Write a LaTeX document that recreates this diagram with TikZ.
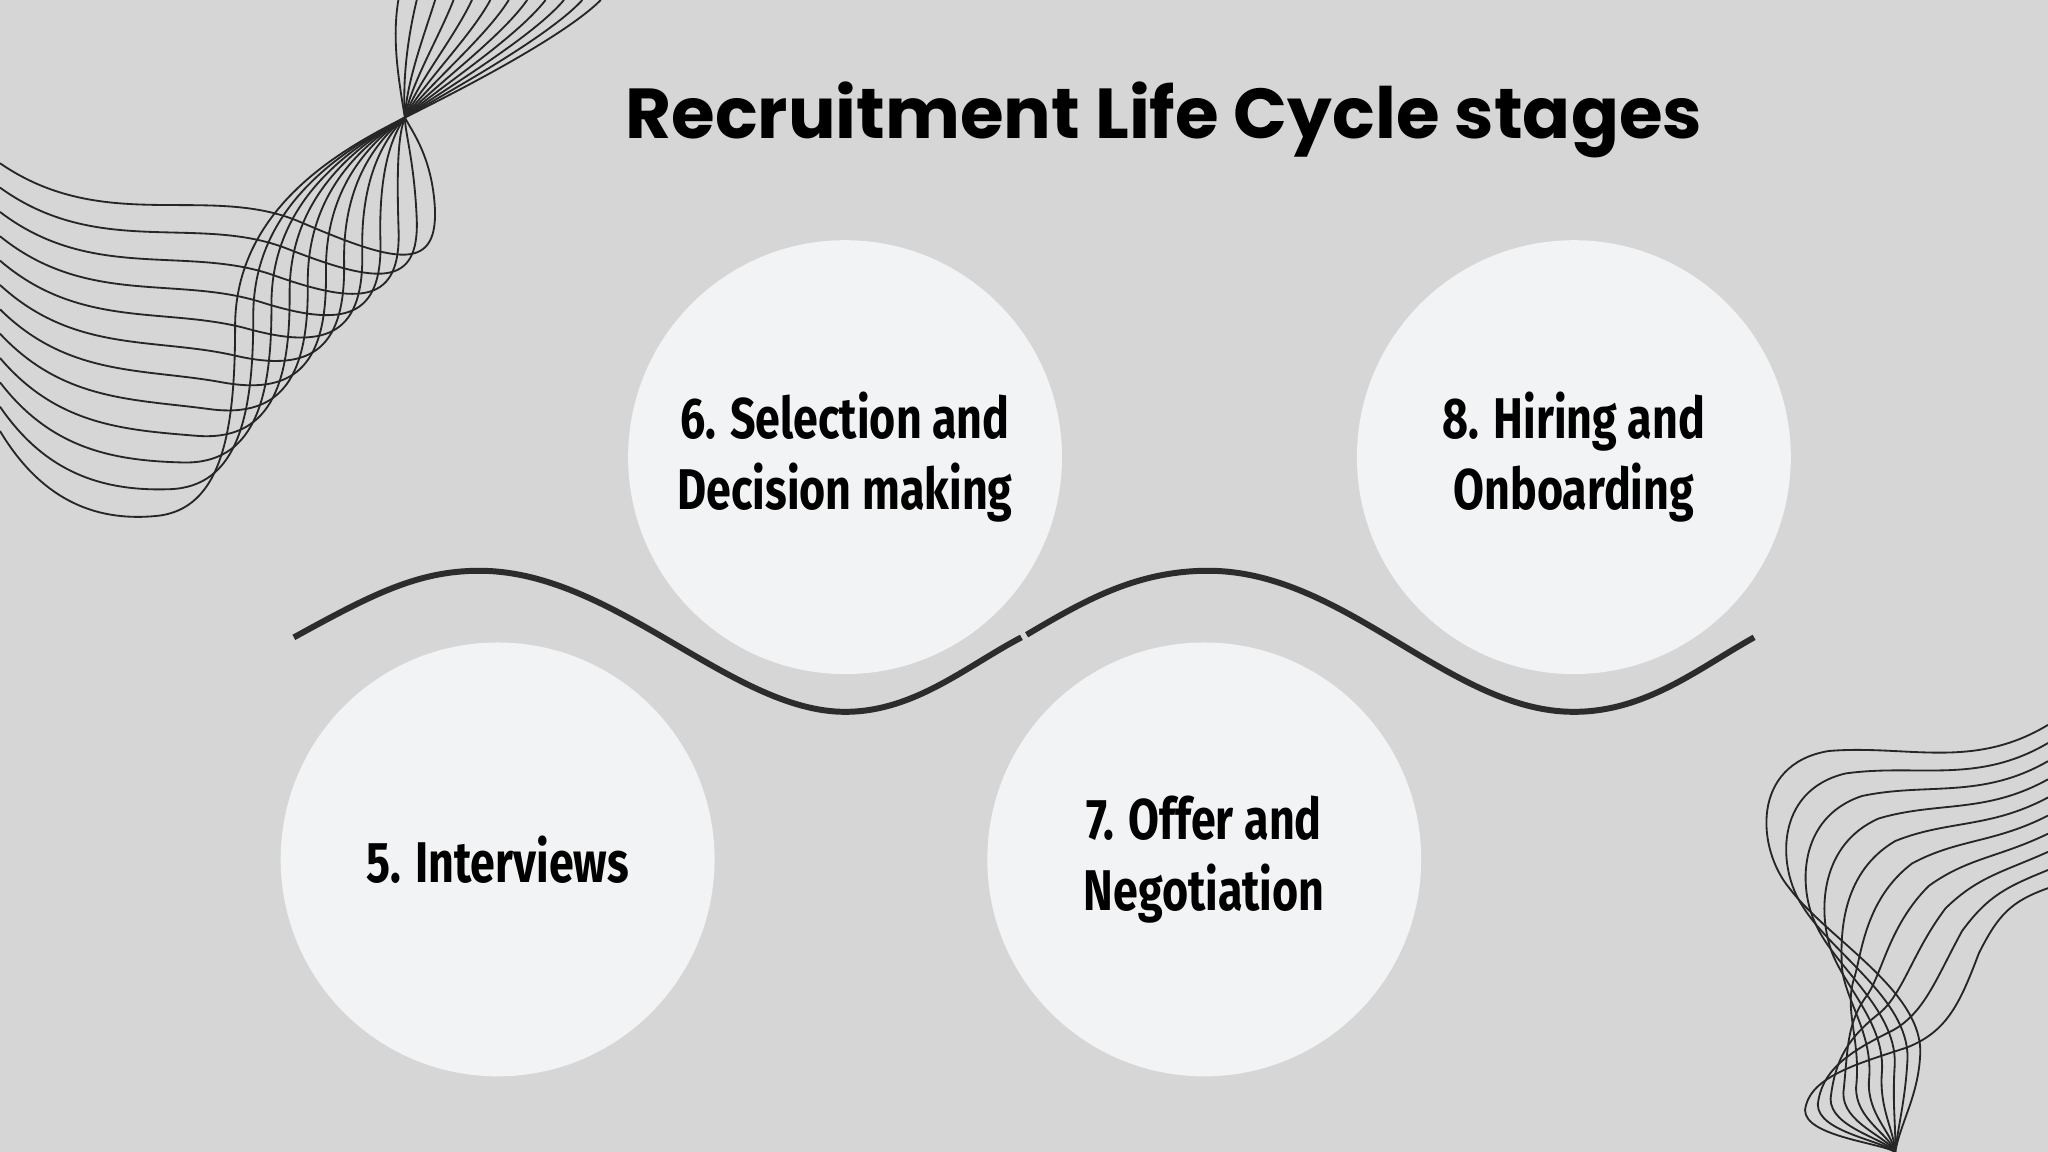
\documentclass[tikz,border=0pt]{standalone}
\usepackage{fontspec}
\setmainfont{Fira Sans}
\newfontfamily\titlefont{Poppins}
\newfontfamily\labelfont[FakeStretch=0.78]{Fira Sans}
\definecolor{bg}{HTML}{D6D6D6}
\definecolor{disc}{HTML}{F2F3F4}
\definecolor{ink}{HTML}{2E2B2B}
\newcommand\lp[4]{({#1+(#3-(#1))*\t},{#2+(#4-(#2))*\t})}
\begin{document}
\begin{tikzpicture}[x=0.01cm,y=-0.01cm,
  stage/.style={circle,fill=disc,minimum size=3.32cm,inner sep=0pt,align=center,
    font=\labelfont\bfseries\fontsize{12.5}{15.6}\selectfont,text=black},
  wavy/.style={draw=ink,line width=1.3pt},
  thin/.style={draw=black!85,line width=0.4pt}]
\fill[bg] (0,0) rectangle (1568,882);
\useasboundingbox (0,0) rectangle (1568,882);
% decorations top-left
\foreach \i in {0,...,11}{
  \pgfmathsetmacro\t{\i/11}
  \draw[thin] \lp{0}{125}{0}{330}
    .. controls \lp{80}{180}{30}{380} and \lp{160}{140}{70}{400} .. \lp{230}{170}{120}{395}
    .. controls \lp{300}{200}{170}{390} and \lp{335}{210}{180}{330} .. \lp{333}{160}{180}{250}
    .. controls \lp{331}{120}{180}{160} and \lp{315}{100}{260}{115} .. (310,90)
    .. controls \lp{305}{60}{340}{75} and \lp{300}{30}{430}{30} .. \lp{305}{0}{460}{0};
}
% decorations bottom-right
\foreach \i in {0,...,9}{
  \pgfmathsetmacro\t{\i/9}
  \draw[thin] \lp{1568}{555}{1568}{680}
    .. controls \lp{1510}{590}{1540}{690} and \lp{1460}{570}{1530}{700} .. \lp{1400}{575}{1515}{730}
    .. controls \lp{1340}{585}{1500}{770} and \lp{1345}{650}{1490}{790} .. \lp{1370}{680}{1460}{802}
    .. controls \lp{1400}{720}{1420}{815} and \lp{1475}{760}{1385}{825} .. \lp{1470}{810}{1382}{850}
    .. controls \lp{1468}{840}{1382}{870} and \lp{1455}{860}{1440}{875} .. (1451,882);
}
% title
\node (title) at (891,92) {\titlefont\bfseries\fontsize{15.4}{18}\selectfont Recruitment Life Cycle stages};
% circles
\node[stage] (s6) at (647,350) {6. Selection and\\Decision making};
\node[stage] (s8) at (1205,350) {8. Hiring and\\Onboarding};
\node[stage] (s5) at (381,658) {5. Interviews};
\node[stage] (s7) at (922,658) {7. Offer and\\Negotiation};
% wave
\draw[wavy] (225,488) .. controls (285,455) and (320,437) .. (367,437)
  .. controls (470,437) and (560,545) .. (647,545)
  .. controls (700,545) and (740,510) .. (782,488);
\draw[wavy] (786,486) .. controls (830,460) and (870,437) .. (925,437)
  .. controls (1030,437) and (1110,545) .. (1205,545)
  .. controls (1260,545) and (1300,512) .. (1343,488);
\end{tikzpicture}
\end{document}
